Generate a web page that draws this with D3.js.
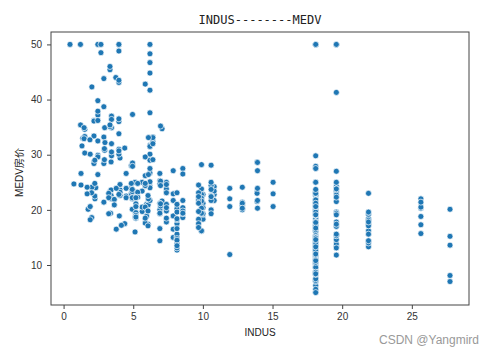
<!DOCTYPE html>
<html><head><meta charset="utf-8">
<script src="https://cdn.jsdelivr.net/npm/d3@7"></script>
<style>
body{margin:0;background:#fff;}
svg text{font-family:"Liberation Sans","Noto Sans CJK SC",sans-serif;}
</style></head>
<body><svg id="c" width="494" height="356"></svg>
<script>
// INDUS levels and the MEDV values observed at each level
const indusLevels = [2.31,7.07,2.18,7.87,8.14,5.96,2.95,6.91,5.64,4.0,1.22,0.74,1.32,5.13,1.38,3.37,6.07,10.81,12.83,4.86,4.49,3.41,15.04,2.89,8.56,10.01,25.65,21.89,19.58,4.05,2.46,3.44,2.93,0.46,1.52,1.47,2.03,2.68,10.59,13.89,6.2,4.93,5.86,3.64,3.75,3.97,6.96,6.41,3.33,1.21,2.97,2.25,1.76,5.32,4.95,13.92,2.24,6.09,9.9,7.38,3.24,6.06,5.19,1.89,3.78,4.39,4.15,2.01,1.25,1.69,2.02,1.91,18.1,27.74,9.69,11.93];
const medvByLevel = [
[24.0],[21.6,34.7],[33.4,36.2,28.7,36.1,28.4,33.4],[22.9,27.1,16.5,18.9,15.0,18.9,21.7],
[20.4,18.2,19.9,23.1,17.5,20.2,18.2,13.6,19.6,15.2,14.5,15.6,13.9,16.6,14.8,18.4,21.0,12.7,14.5,13.2,13.1,13.5],
[18.9,20.0,21.0,24.7],[30.8,34.9],[26.6,25.3,24.7,21.2,19.3,20.0,16.6,14.4,19.4],[19.7,20.5,25.0,23.4],
[18.9],[35.4],[24.7],[31.6],[23.3,19.6,18.7,16.0,22.2,25.0],[33.0],[23.5,19.4],[22.0,17.4,20.9],
[24.2,21.7,22.8,23.4],[24.1,21.4,20.0,20.8,21.2,20.3],[28.0,23.9,24.8,22.9],[23.9,26.6,22.5,22.2],
[23.6,28.7,22.6,22.0],[22.9,25.0,20.6],[28.4,21.4,38.7,43.8,33.2],
[27.5,26.5,18.6,19.3,20.1,19.5,19.5,20.4,19.8,19.4,21.7],[22.8,18.8,18.7,18.5,18.3,21.2,19.2,20.4,19.3],
[22.0,20.3,20.5,17.3,18.8,21.4,15.7],
[16.2,18.0,14.3,19.2,19.6,23.0,18.4,15.6,18.1,17.4,17.1,13.3,17.8,14.0,14.4],
[13.4,15.6,11.8,13.8,15.6,14.6,17.8,15.4,21.5,19.6,15.3,19.4,17.0,15.6,13.1,41.3,24.3,23.3,27.0,50.0,50.0,50.0,22.7,25.0,50.0,23.8,23.8,22.3,17.4,19.1],
[23.1,23.6,22.6,29.4,23.2,24.6],[29.9,37.2,39.8,36.2,37.9,32.5,26.4,29.6,50.0],[32.0,29.8,34.9,37.0,30.5,36.4],
[31.1,29.1],[50.0],[33.3,30.3,34.6],[34.9,32.9],[24.1,42.3],[48.5,50.0],
[22.6,24.4,22.5,24.4,20.0,21.7,19.3,22.4,28.1,23.7,25.0],[23.3,28.7,21.5,23.0],
[26.7,21.7,27.5,30.1,44.8,50.0,37.6,31.6,46.7,31.5,24.3,31.7,41.7,48.3,29.0,24.0,25.1,31.5],
[23.7,23.3,22.0,20.1,22.2,23.7],[17.6,18.5,24.3,20.5,24.5,26.2,24.4,24.8,29.6,42.8],[21.9,20.9],[44.0],
[50.0,36.0,30.1,33.8,43.1,48.8,31.0,36.5,22.8,30.7,50.0,43.5],[20.7,21.1,25.2,24.4,35.2],
[32.4,32.0,33.2,33.1,29.1],[35.1,45.4,35.4,46.0],[50.0],[32.2],[22.0],[20.1],[23.2,22.3,24.8],[28.5,37.3,27.9],
[23.9,21.7,28.6,27.1,20.3],[22.5,29.0,24.8],[22.0,26.4,33.1],[28.2,22.8,20.3,16.1,22.1,19.4,21.6,23.8,16.2],
[17.8,19.8,23.1,21.0,23.8,23.1,20.4,18.5,25.0,24.6],[23.0,22.2,19.3],[22.6,19.8,17.1],
[19.4,22.2,20.7,21.1,19.5,18.5,20.6,19.0,18.7],[32.7],[16.5,23.9],[31.2,17.5],[17.2],[23.1],[24.5,26.6],[22.9,24.1],[18.6],[30.1,18.2,20.6],
[17.8,21.7,22.7,22.6,25.0,19.9,20.8,16.8,21.9,27.5,21.9,23.1,50.0,50.0,50.0,50.0,50.0,13.8,13.8,15.0,13.9,13.3,13.1,10.2,10.4,10.9,11.3,12.3,8.8,7.2,10.5,7.4,10.2,11.5,15.1,23.2,9.7,13.8,12.7,13.1,12.5,8.5,5.0,6.3,5.6,7.2,12.1,8.3,8.5,5.0,11.9,27.9,17.2,27.5,15.0,17.2,17.9,16.3,7.0,7.2,7.5,10.4,8.8,8.4,16.7,14.2,20.8,13.4,11.7,8.3,10.2,10.9,11.0,9.5,14.5,14.1,16.1,14.3,11.7,13.4,9.6,8.7,8.4,12.8,10.5,17.1,18.4,15.4,10.8,11.8,14.9,12.6,14.1,13.0,13.4,15.2,16.1,17.8,14.9,14.1,12.7,13.5,14.9,20.0,16.4,17.7,19.5,20.2,21.4,19.9,19.0,19.1,19.1,20.1,19.9,19.6,23.2,29.8,13.8,13.3,16.7,12.0,14.6,21.4,23.0,23.7,25.0,21.8,20.6,21.2,19.1,20.6],
[15.2,7.0,8.1,13.6,20.1],[21.8,24.5,23.1,19.7,18.3,21.2,17.5,16.8,22.4],[20.6,23.9,22.0,11.9]
];
const xTicks = [0,5,10,15,20,25];
const yTicks = [10,20,30,40,50];
const titleText = "INDUS--------MEDV";
const xLabel = "INDUS";
const yLabel = "MEDV房价";
const watermark = "CSDN @Yangmird";

const points = [];
indusLevels.forEach((x,i)=>medvByLevel[i].forEach(y=>points.push({x,y})));

const m = {l:51, r:469, t:32, b:305};
const x = d3.scaleLinear().domain([-0.904, 29.104]).range([m.l, m.r]);
const y = d3.scaleLinear().domain([2.75, 52.25]).range([m.b, m.t]);
const svg = d3.select("#c");

svg.append("g").selectAll("circle").data(points).join("circle")
  .attr("cx",d=>x(d.x)).attr("cy",d=>y(d.y)).attr("r",3)
  .attr("fill","#1f77b4").attr("stroke","#fff").attr("stroke-width",0.7);

svg.append("rect").attr("x",m.l).attr("y",m.t).attr("width",m.r-m.l).attr("height",m.b-m.t)
  .attr("fill","none").attr("stroke","#444").attr("stroke-width",1);

const xa = svg.append("g").attr("transform",`translate(0,${m.b})`)
  .call(d3.axisBottom(x).tickValues(xTicks).tickSize(4).tickPadding(4).tickFormat(d3.format("d")));
const ya = svg.append("g").attr("transform",`translate(${m.l},0)`)
  .call(d3.axisLeft(y).tickValues(yTicks).tickSize(4).tickPadding(5).tickFormat(d3.format("d")));
[xa,ya].forEach(a=>{
  a.select(".domain").remove();
  a.selectAll("line").attr("stroke","#444");
  a.selectAll("text").attr("fill","#333").attr("font-size",10);
});

svg.append("text").attr("x",(m.l+m.r)/2).attr("y",24).attr("text-anchor","middle")
  .attr("font-size",12).style("font-family","'DejaVu Sans Mono',monospace").attr("fill","#222").text(titleText);
svg.append("text").attr("x",(m.l+m.r)/2).attr("y",336).attr("text-anchor","middle")
  .attr("font-size",10).attr("fill","#222").text(xLabel);
svg.append("text").attr("transform",`translate(23,${(m.t+m.b)/2+4}) rotate(-90)`).attr("text-anchor","middle")
  .attr("font-size",10).attr("fill","#222").text(yLabel);
svg.append("text").attr("x",479).attr("y",344).attr("text-anchor","end")
  .attr("font-size",12).attr("fill","#999").text(watermark);
</script></body></html>
